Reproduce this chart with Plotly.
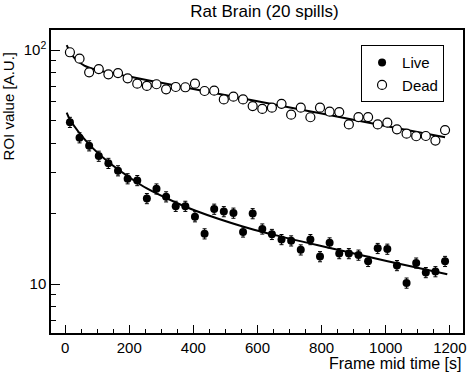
import plotly.graph_objects as go

# ---- data ----
frame_time = [15 + 30 * i for i in range(40)]  # frame mid times [s]

live_values = [49.1, 42.2, 39.0, 35.2, 32.8, 30.5, 28.2, 27.7, 23.2, 25.5,
               23.6, 21.5, 21.5, 19.4, 16.4, 20.9, 20.4, 20.1, 16.7, 20.0,
               17.2, 16.3, 15.5, 15.3, 14.0, 15.5, 13.1, 15.0, 13.5, 13.5,
               13.3, 12.5, 14.2, 14.1, 12.0, 10.1, 12.3, 11.2, 11.3, 12.5]

dead_values = [97.8, 91.8, 80.3, 82.9, 78.7, 79.7, 75.7, 71.8, 70.2, 71.4,
               67.9, 69.5, 69.3, 71.8, 66.8, 67.0, 61.5, 63.2, 61.5, 57.6,
               56.0, 56.7, 58.9, 52.9, 56.7, 51.6, 56.7, 54.5, 54.3, 48.1,
               51.7, 51.7, 48.1, 48.9, 45.8, 43.9, 42.8, 42.9, 41.0, 45.5]

live_err_pct = 5
dead_err_pct = 3

live_fit_t = [5, 15, 75, 135, 195, 255, 345, 405, 554, 645, 851, 1006, 1192]
live_fit_v = [54.0, 50.5, 39.5, 33.2, 28.9, 25.6, 22.3, 20.6, 17.6, 16.3, 14.0, 12.5, 11.0]

dead_fit_t = [5, 15, 30, 60, 100, 150, 200, 300, 400, 600, 800, 1000, 1185]
dead_fit_v = [105.0, 98.4, 92.1, 85.8, 82.2, 79.4, 77.0, 72.4, 68.2, 60.4, 53.5, 47.3, 42.4]

x_ticks = [0, 200, 400, 600, 800, 1000, 1200]
y_tick_vals = [10, 100]
y_tick_text = ["10", "10<sup>2</sup>"]
y_minor_vals = [7, 8, 9, 20, 30, 40, 50, 60, 70, 80, 90]

FONT = "Liberation Sans, Arial, Helvetica, sans-serif"

fig = go.Figure()

fig.add_trace(go.Scatter(x=dead_fit_t, y=dead_fit_v, mode="lines",
                         line=dict(color="black", width=2, shape="spline"),
                         showlegend=False, hoverinfo="skip"))
fig.add_trace(go.Scatter(x=live_fit_t, y=live_fit_v, mode="lines",
                         line=dict(color="black", width=2, shape="spline"),
                         showlegend=False, hoverinfo="skip"))

fig.add_trace(go.Scatter(
    x=frame_time, y=live_values, mode="markers", name="Live",
    marker=dict(symbol="circle", size=8, color="black"),
    error_y=dict(type="percent", value=live_err_pct, color="black",
                 thickness=1, width=2)))
fig.add_trace(go.Scatter(
    x=frame_time, y=dead_values, mode="markers", name="Dead",
    marker=dict(symbol="circle", size=9, color="white",
                line=dict(color="black", width=1.2)),
    error_y=dict(type="percent", value=dead_err_pct, color="black",
                 thickness=1, width=1)))

fig.update_layout(
    width=474, height=374,
    margin=dict(l=51, r=8, t=30, b=41),
    paper_bgcolor="white", plot_bgcolor="white",
    font=dict(family=FONT, size=14, color="black"),
    title=dict(text="Rat Brain (20 spills)", x=0.518, xref="paper",
               xanchor="center", y=0.97, yanchor="middle",
               font=dict(size=17, family=FONT, color="black")),
    legend=dict(x=0.954, xanchor="right", y=0.95, yanchor="top",
                bordercolor="black", borderwidth=1, bgcolor="white",
                font=dict(size=15, family=FONT),
                itemwidth=30, tracegroupgap=0),
    showlegend=True,
)

fig.update_xaxes(
    range=[-44, 1241], tickvals=x_ticks, ticks="inside", ticklen=8,
    tickcolor="black", tickwidth=1,
    minor=dict(dtick=50, tick0=0, ticks="inside", ticklen=4,
               tickcolor="black", tickwidth=1),
    showline=True, linecolor="black", linewidth=1.5, mirror=True,
    showgrid=False, zeroline=False,
    tickfont=dict(size=15, family=FONT),
)
fig.update_yaxes(
    type="log", range=[0.7906, 2.0855],
    tickvals=y_tick_vals, ticktext=y_tick_text,
    ticks="inside", ticklen=9, tickcolor="black", tickwidth=1,
    minor=dict(tickvals=y_minor_vals, ticks="inside", ticklen=5,
               tickcolor="black", tickwidth=1, showgrid=False),
    showline=True, linecolor="black", linewidth=1.5, mirror=True,
    showgrid=False, zeroline=False,
    tickfont=dict(size=15, family=FONT),
)

fig.add_annotation(text="ROI value [A.U.]", textangle=-90,
                   xref="paper", yref="paper", x=-0.101, y=0.934,
                   xanchor="center", yanchor="top", showarrow=False,
                   font=dict(size=15, family=FONT))
fig.add_annotation(text="Frame mid time [s]",
                   xref="paper", yref="paper", x=1.0, y=-0.102,
                   xanchor="right", yanchor="middle", showarrow=False,
                   font=dict(size=16, family=FONT))

fig.write_html("out.html", config={"displayModeBar": False},
               post_script="document.body.style.margin='0';")
